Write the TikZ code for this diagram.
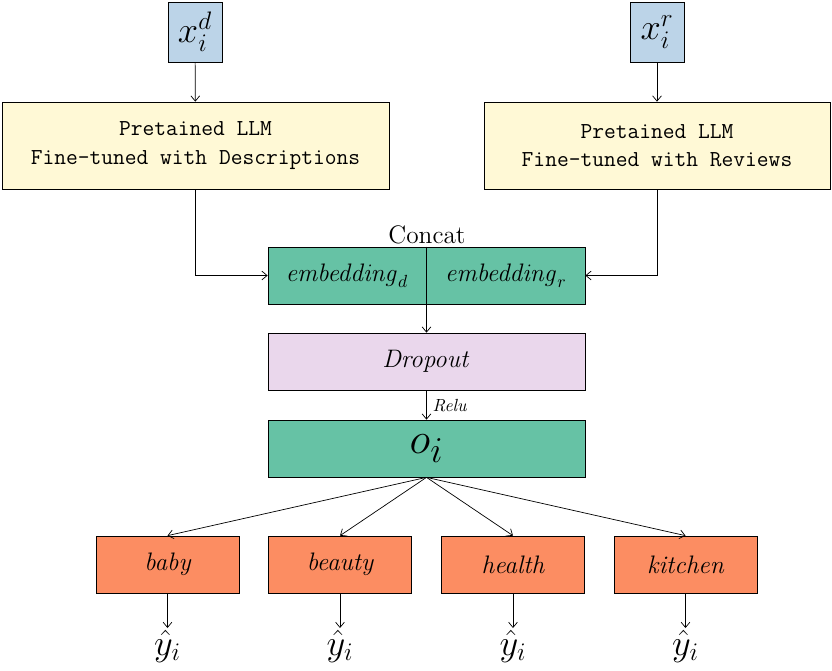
\documentclass[tikz,border=0pt]{standalone}
\usetikzlibrary{arrows.meta}
\definecolor{cblue}{HTML}{BCD4E8}
\definecolor{cyel}{HTML}{FFF9D6}
\definecolor{cgreen}{HTML}{66C2A5}
\definecolor{clav}{HTML}{EAD7EC}
\definecolor{corange}{HTML}{FC8D62}
\begin{document}
\begin{tikzpicture}[x=0.02cm,y=-0.02cm,
  box/.style={draw,inner sep=0pt,anchor=center},
  arr/.style={-{Straight Barb[length=3pt,width=5pt]},thin},
  llm/.style={box,fill=cyel,minimum width=387*0.02cm,minimum height=87*0.02cm,font=\ttfamily\fontsize{13}{16}\selectfont,align=center},
  wide/.style={box,minimum width=317*0.02cm,minimum height=57*0.02cm},
  cat/.style={box,fill=corange,minimum width=143*0.02cm,minimum height=57*0.02cm,font=\Large\itshape},
  yhat/.style={font=\huge,inner sep=1pt}]
\useasboundingbox (0,0) rectangle (832,670);
\node[box,fill=cblue,minimum width=54*0.02cm,minimum height=60*0.02cm,font=\huge] (xd) at (195,32) {$x_i^d$};
\node[box,fill=cblue,minimum width=54*0.02cm,minimum height=60*0.02cm,font=\huge] (xr) at (657,32) {$x_i^r$};
\node[llm] (ld) at (195.5,145.5) {Pretained LLM\\Fine-tuned with Descriptions};
\node[llm,minimum width=346*0.02cm] (lr) at (657,145.5) {Pretained LLM\\Fine-tuned with Reviews};
\draw[arr] (xd) -- (ld);
\draw[arr] (xr) -- (lr);
\node[wide,fill=cgreen] (emb) at (426.5,275.5) {};
\node[font=\Large] (ed) at (347,275.5) {$\mathit{embedding}_d$};
\node[font=\Large] (er) at (506,275.5) {$\mathit{embedding}_r$};
\node[font=\Large,anchor=south,inner sep=1pt] (cc) at (427,246) {Concat};
\node[wide,fill=clav,font=\Large] (dr) at (426.5,361.5) {$\mathit{Dropout}$};
\node[wide,fill=cgreen,font=\Huge] (o) at (426.5,448.5) {$o_i$};
\draw[arr] (ld.south) |- (emb.west);
\draw[arr] (lr.south) |- (emb.east);
\draw[arr] (emb.north) -- (dr.north);
\draw[arr] (dr) -- node[right] {$\mathit{Relu}$} (o);
\foreach \n/\t/\x in {a/baby/167.5,b/beauty/340,c/health/513,d/kitchen/685.5}{
  \node[cat] (\n) at (\x,564.5) {\t};
  \node[yhat,anchor=north] (y\n) at (\x,628) {$\hat{y}_i$};
  \draw[arr] (o.south) -- (\n.north);
  \draw[arr] (\n) -- (y\n);
}
\end{tikzpicture}
\end{document}
